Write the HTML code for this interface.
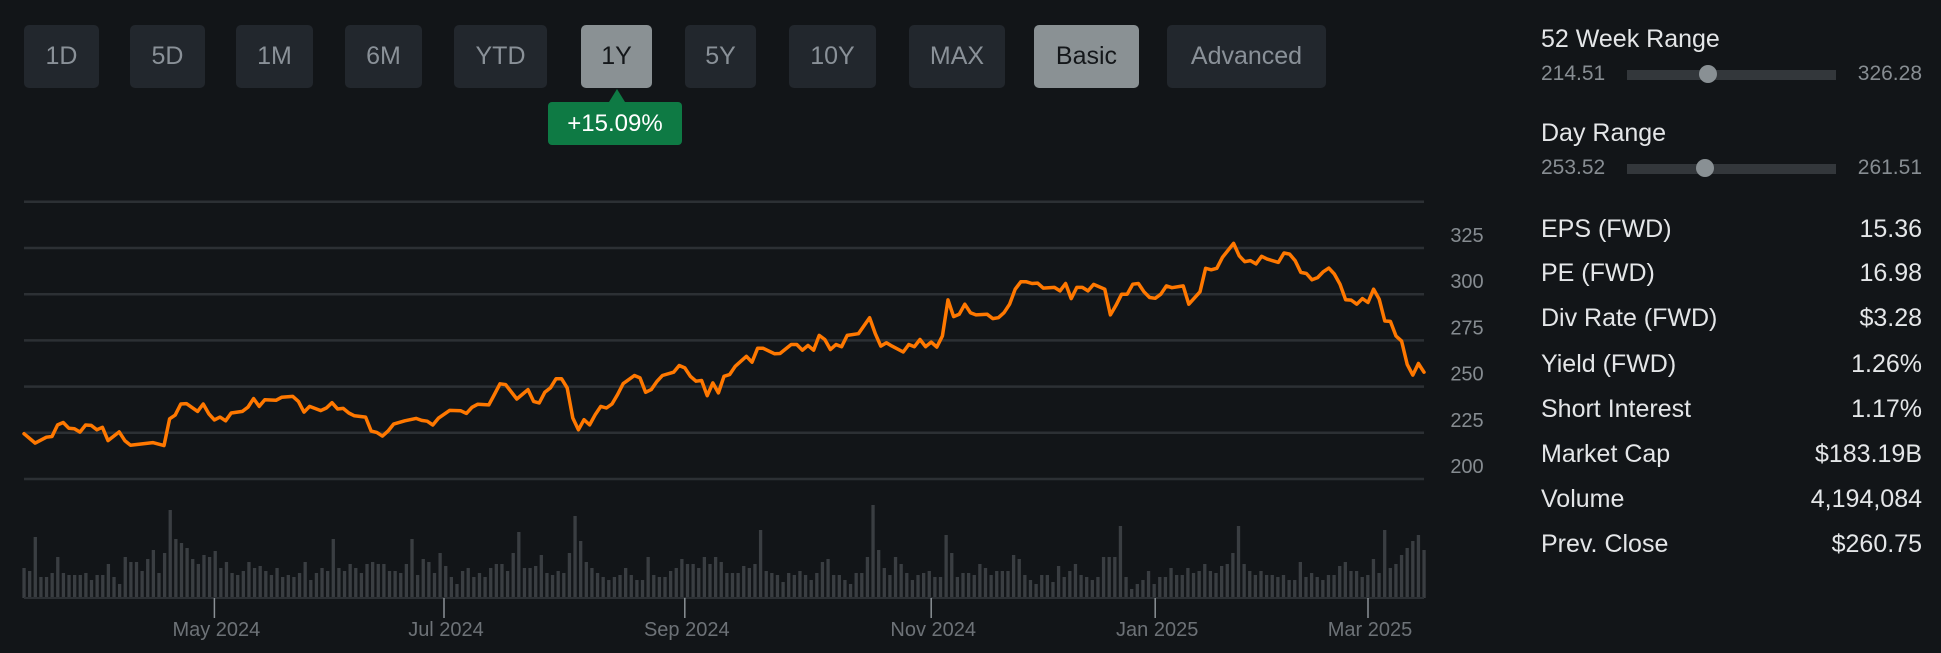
<!DOCTYPE html>
<html><head><meta charset="utf-8">
<style>
html,body{margin:0;padding:0;background:#121518;}
body{width:1941px;height:653px;position:relative;overflow:hidden;font-family:"Liberation Sans",Arial,sans-serif;}
.btn{position:absolute;top:25px;height:63px;border-radius:5px;background:#22272d;color:#8a9198;font-size:25px;line-height:63px;text-align:center;}
.btn.on{background:#8a9194;color:#14171a;}
.abs{position:absolute;white-space:nowrap;}
.lbl{color:#e4e6e8;font-size:25px;}
.sm{color:#878d92;font-size:21px;}
.track{position:absolute;height:10px;background:#33373b;}
.thumb{position:absolute;width:18px;height:18px;border-radius:50%;background:#899094;}
.row{position:absolute;left:1541px;width:381px;font-size:25px;color:#e4e6e8;height:30px;line-height:30px;}
.row span{position:absolute;}
.row .v{right:0;}
</style></head><body>
<div class="btn" style="left:24px;width:75px">1D</div>
<div class="btn" style="left:130px;width:75px">5D</div>
<div class="btn" style="left:236px;width:77px">1M</div>
<div class="btn" style="left:345px;width:77px">6M</div>
<div class="btn" style="left:454px;width:93px">YTD</div>
<div class="btn on" style="left:581px;width:71px">1Y</div>
<div class="btn" style="left:685px;width:71px">5Y</div>
<div class="btn" style="left:789px;width:87px">10Y</div>
<div class="btn" style="left:909px;width:96px">MAX</div>
<div class="btn on" style="left:1034px;width:105px">Basic</div>
<div class="btn" style="left:1167px;width:159px">Advanced</div>

<div class="abs" style="left:548px;top:102px;width:134px;height:43px;background:#0e7a44;border-radius:4px;color:#fff;font-size:24px;line-height:43px;text-align:center;">+15.09%</div>
<div class="abs" style="left:609px;top:89px;width:0;height:0;border-left:8px solid transparent;border-right:8px solid transparent;border-bottom:13px solid #0e7a44;"></div>

<svg id="chart" width="1500" height="653" style="position:absolute;left:0;top:0"></svg>

<div class="abs lbl" style="left:1541px;top:25px">52 Week Range</div>
<div class="abs sm" style="left:1541px;top:62px">214.51</div>
<div class="track" style="left:1627px;top:70px;width:209px"></div>
<div class="thumb" style="left:1699px;top:65px"></div>
<div class="abs sm" style="right:19px;top:62px">326.28</div>

<div class="abs lbl" style="left:1541px;top:119px">Day Range</div>
<div class="abs sm" style="left:1541px;top:156px">253.52</div>
<div class="track" style="left:1627px;top:164px;width:209px"></div>
<div class="thumb" style="left:1696px;top:159px"></div>
<div class="abs sm" style="right:19px;top:156px">261.51</div>

<div class="row" style="top:214px"><span>EPS (FWD)</span><span class="v">15.36</span></div>
<div class="row" style="top:258px"><span>PE (FWD)</span><span class="v">16.98</span></div>
<div class="row" style="top:303px"><span>Div Rate (FWD)</span><span class="v">$3.28</span></div>
<div class="row" style="top:349px"><span>Yield (FWD)</span><span class="v">1.26%</span></div>
<div class="row" style="top:394px"><span>Short Interest</span><span class="v">1.17%</span></div>
<div class="row" style="top:439px"><span>Market Cap</span><span class="v">$183.19B</span></div>
<div class="row" style="top:484px"><span>Volume</span><span class="v">4,194,084</span></div>
<div class="row" style="top:529px"><span>Prev. Close</span><span class="v">$260.75</span></div>

<script>
const priceDays=[0,2,4,5,6,7,8,9,10,11,12,13,14,15,17,18,19,23,25,26,27,28,29,31,32,33,34,35,36,37,39,40,41,42,43,45,46,48,49,50,51,53,54,55,56,57,58,59,61,62,63,64,65,66,68,70,71,72,73,74,76,78,79,80,81,83,84,85,86,88,90,91,92,93,94,95,96,97,98,99,100,101,102,103,104,105,106,107,109,110,111,112,113,114,116,117,118,119,120,121,122,123,124,125,126,127,129,130,131,132,134,135,137,138,139,140,141,142,143,144,145,146,147,149,151,152,153,154,155,157,158,159,160,161,162,163,164,165,166,167,168,169,170,172,173,174,175,176,177,178,179,180,181,182,184,185,186,187,188,189,190,191,193,194,195,196,197,198,199,200,201,202,203,204,205,207,208,210,211,212,213,214,216,217,218,219,220,221,222,224,225,226,227,228,229,230,231,232,233,234,235,236,237,238,239,240,241,242,243,244,245,246,247,248,249,250];
const prices=[224.5,219.4,222.6,223,229.3,230.6,227.5,227.2,225.4,229.2,229,226.6,228,220.8,225.5,220.8,218.3,219.7,218.1,232.6,234.6,240.6,240.8,236.6,240.6,235.3,232,233.5,231.5,235.7,236.6,238.9,243.5,239.3,242.9,242.6,244.2,244.7,242,236.2,239.3,237,238.4,241.3,237.9,238.2,235.7,234.2,233.5,225.9,225.2,223.2,225.9,229.7,231.5,232.8,231.7,231.3,229.2,232.9,237.1,236.9,235.5,238.8,240.4,240.1,245.7,251.5,251.1,243.3,248.4,242,241.1,246.9,249.3,254.2,254.2,249.3,233,226.6,232.1,229.3,234.8,239.3,238.4,240.6,245.7,251.6,256,254.7,246.9,248.4,252.7,256,257.8,261.4,260.1,255.6,252.9,253.3,245.1,252,246.6,255.6,256.5,261,266.4,263.2,270.7,270.7,267.8,267.9,272.8,272.8,269.7,272.3,269.7,277.7,275.5,270.1,272.8,271.6,277.7,278.6,287.3,278.8,271.9,273.7,271.9,268.7,272.8,271.6,275.5,271.6,274.1,271.4,277.4,296.9,287.9,289.1,294.6,290,288.8,289.1,286.8,287.3,290,294.6,302.7,306.7,306.7,305.8,306,303.3,303.7,301.8,305.8,297.6,303.7,303.7,301.8,305.3,302.7,288.8,294,300,300,305.4,305.8,301.3,298.2,297.8,300,304.5,303.5,304.5,294.6,301.3,314,313.2,314,319.9,327.5,320.8,317.6,318.2,316.4,320.5,319,317.2,322.3,321.7,318.1,311.8,311.2,307.8,309,312.1,314.1,310.9,305.4,297,296.8,294.6,297.6,295.5,302.7,297.3,285.5,285.3,277.4,274.6,262,256.2,262.5,257.8];
const volumes=[30,27,61,21,21,25,41,25,23,23,23,25,18,23,23,34,21,14,41,36,36,27,39,48,25,45,88,59,55,50,39,34,43,41,47,30,36,25,23,27,36,30,32,27,23,30,21,23,21,25,36,18,25,30,27,59,30,27,34,30,25,34,36,34,34,27,27,25,34,59,23,39,36,25,45,32,21,14,27,30,21,25,21,30,34,34,27,45,66,30,30,32,43,25,23,27,25,45,82,57,36,30,25,21,18,21,23,30,23,18,18,41,23,21,21,27,30,39,34,34,30,41,34,41,36,25,25,25,32,30,34,68,27,25,23,16,25,23,27,23,18,25,36,39,23,23,18,14,25,25,41,93,48,30,23,41,34,25,18,23,25,27,21,21,63,45,21,25,25,23,34,30,23,27,27,27,43,39,23,18,14,23,23,16,32,21,27,34,23,21,18,21,41,41,41,72,21,9,14,18,27,14,21,21,30,23,23,30,25,27,34,27,25,32,34,45,72,34,27,23,27,23,23,21,23,18,18,36,21,25,21,18,23,23,32,36,27,27,21,23,39,25,68,30,34,43,50,57,63,48];
const yTicks=[325,300,275,250,225,200];
const gridValues=[350,325,300,275,250,225,200];
const monthTickDays=[34,75,118,162,202,240];
const monthLabels=["May 2024","Jul 2024","Sep 2024","Nov 2024","Jan 2025","Mar 2025"];

const NS="http://www.w3.org/2000/svg";
const svg=document.getElementById('chart');
const X0=24,X1=1424,LASTDAY=250;
const xDay=d=>X0+d/LASTDAY*(X1-X0);
const yPrice=v=>248+(325-v)*1.848;
const VBASE=598;
const yVol=v=>VBASE-v*1.0;
function mk(tag,attrs){const e=document.createElementNS(NS,tag);for(const k in attrs)e.setAttribute(k,attrs[k]);svg.appendChild(e);return e;}

gridValues.forEach(v=>{
  const l=mk('line',{x1:X0,x2:X1,y1:yPrice(v),y2:yPrice(v),stroke:'#2c3034','stroke-width':2.5});
  
  
});
yTicks.forEach(v=>{
  const t=mk('text',{x:1467,y:yPrice(v)-6,'text-anchor':'middle','font-size':20,fill:'#868c91','font-family':'Liberation Sans, Arial, sans-serif'});
  t.textContent=v;
  
  
});
const n=volumes.length;
volumes.forEach((v,i)=>{
  const x=X0+i/(n-1)*(X1-X0);
  const r=mk('rect',{x:x-1.6,y:yVol(v),width:3.3,height:VBASE-yVol(v),fill:'#3a3e42'});
  
  
});
const base=mk('line',{x1:X0,x2:X1,y1:VBASE,y2:VBASE,stroke:'#2c3034','stroke-width':2});


monthTickDays.forEach((d,i)=>{
  const x=xDay(d);
  const tk=mk('line',{x1:x,x2:x,y1:VBASE,y2:618,stroke:'#8a9095','stroke-width':1.5});
  
  
  const t=mk('text',{x:x+2,y:636,'text-anchor':'middle','font-size':20,fill:'#6d7277','font-family':'Liberation Sans, Arial, sans-serif'});
  t.textContent=monthLabels[i];
  
  
});
const pts=priceDays.map((d,i)=>xDay(d).toFixed(1)+','+yPrice(prices[i]).toFixed(1)).join(' ');
const line=mk('polyline',{points:pts,fill:'none',stroke:'#ff7800','stroke-width':3.5,'stroke-linejoin':'round','stroke-linecap':'round'});


</script>
</body></html>
